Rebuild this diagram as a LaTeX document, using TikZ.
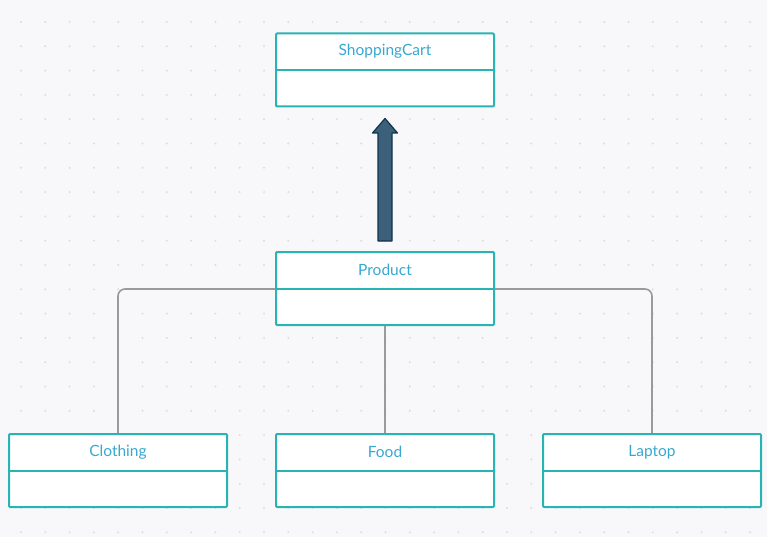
\documentclass[tikz,border=0pt]{standalone}
\usepackage{fontspec}
\setmainfont{Lato}
\begin{document}
\definecolor{bg}{HTML}{F8F8FB}
\definecolor{dotc}{HTML}{DCDDE3}
\definecolor{teal}{HTML}{2AB3B3}
\definecolor{txt}{HTML}{38A8D2}
\definecolor{conn}{HTML}{9A9A9A}
\definecolor{arrf}{HTML}{3C6079}
\definecolor{arrd}{HTML}{0E3350}
\begin{tikzpicture}[x=1pt,y=-1pt,
  cls/.style={draw=teal,line width=2pt,fill=white,rounded corners=1pt,minimum width=218pt,minimum height=73pt,inner sep=0pt},
  lbl/.style={text=txt,font=\fontsize{15.5}{18}\selectfont},
  con/.style={draw=conn,line width=1.6pt,rounded corners=7pt}]
\fill[bg] (0,0) rectangle (767,537);
\useasboundingbox (0,0) rectangle (767,537);
\foreach \i in {0,...,31}{\foreach \j in {0,...,21}{
  \fill[dotc] (21+\i*24.3,22+\j*24.3) circle (1.1pt);}}
% connectors
\coordinate (pl) at (276,289);
\coordinate (pr) at (494,289);
\draw[con] (pl) -- (118,289) -- (118,434);
\draw[con] (pr) -- (652,289) -- (652,434);
\draw[con] (385,325) -- (385,434);
% classes
\foreach \n/\t/\x/\y in {sc/ShoppingCart/385/70, pr/Product/385/288.5, cl/Clothing/118/470.5, fo/Food/385/470.5, la/Laptop/652/470.5}{
  \node[cls] (\n) at (\x,\y) {};
  \draw[teal,line width=2pt] ([yshift=-0.5pt]\n.west) -- ([yshift=-0.5pt]\n.east);
  \node[lbl] (\n-t) at (\x,\y-18.5) {\t};
}
% arrow
\draw[arrd,fill=arrf,line width=1.2pt,line join=round]
  (378,241) -- (378,133) -- (372.5,133) -- (385,118.5) -- (397.5,133) -- (392,133) -- (392,241) -- cycle;
\end{tikzpicture}
\end{document}
